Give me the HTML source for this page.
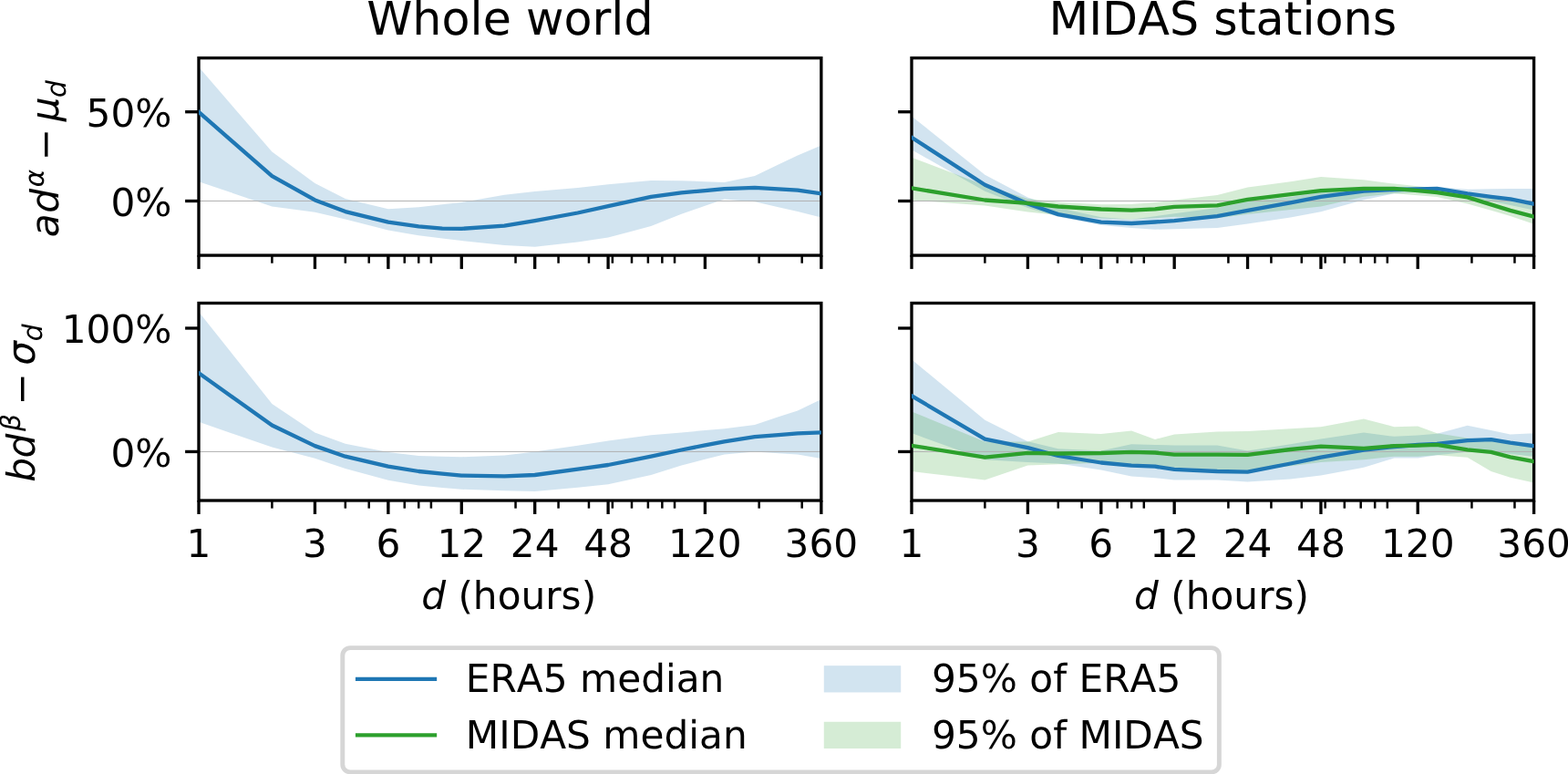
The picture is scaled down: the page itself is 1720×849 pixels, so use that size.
<!DOCTYPE html>
<html lang="en"><head><meta charset="utf-8"><title>Whole world / MIDAS stations</title>
<style>
html,body{margin:0;padding:0;background:#fff;}
body{width:1720px;height:849px;overflow:hidden;}
svg{display:block;}
</style></head><body>
<svg width="1720" height="849" viewBox="0 0 1720 849" font-family="'DejaVu Sans', 'Liberation Sans', sans-serif" font-size="41.667px" fill="#000" style="font-kerning:none;font-variant-ligatures:none;text-rendering:geometricPrecision">
<rect width="1720" height="849" fill="#fff"/>
<defs>
<clipPath id="ctl"><rect x="218.0" y="63.6" width="682.85" height="216.50000000000003"/></clipPath>
<clipPath id="ctr"><rect x="1000.0" y="63.6" width="682.5999999999999" height="216.50000000000003"/></clipPath>
<clipPath id="cbl"><rect x="218.0" y="332.5" width="682.85" height="216.5"/></clipPath>
<clipPath id="cbr"><rect x="1000.0" y="332.5" width="682.5999999999999" height="216.5"/></clipPath>
</defs>
<g clip-path="url(#ctl)">
<path d="M218.00,73.60 L298.41,166.50 L345.45,201.00 L378.82,218.00 L425.86,229.30 L459.24,227.20 L485.12,224.34 L506.28,222.00 L553.31,213.80 L586.69,210.00 L633.73,206.00 L667.10,202.20 L714.14,198.00 L747.51,198.20 L773.40,199.25 L794.55,200.10 L827.92,193.00 L853.81,180.56 L874.96,170.40 L900.85,159.50 L900.85,238.50 L874.96,231.90 L853.81,227.13 L827.92,221.30 L794.55,218.40 L773.40,225.73 L747.51,234.70 L714.14,248.10 L667.10,260.60 L633.73,265.40 L586.69,270.70 L553.31,268.90 L506.28,264.00 L485.12,261.44 L459.24,258.30 L425.86,252.60 L378.82,240.60 L345.45,232.80 L298.41,226.40 L218.00,199.30Z" fill="#1f77b4" fill-opacity="0.2"/>
<line x1="218.0" x2="900.85" y1="220.45" y2="220.45" stroke="#b0b0b0" stroke-width="1.0"/>
</g>
<line x1="298.41" x2="298.41" y1="280.1" y2="288.73" stroke="#000" stroke-width="2.500"/>
<line x1="345.45" x2="345.45" y1="280.1" y2="288.73" stroke="#000" stroke-width="2.500"/>
<line x1="378.82" x2="378.82" y1="280.1" y2="288.73" stroke="#000" stroke-width="2.500"/>
<line x1="404.71" x2="404.71" y1="280.1" y2="288.73" stroke="#000" stroke-width="2.500"/>
<line x1="425.86" x2="425.86" y1="280.1" y2="288.73" stroke="#000" stroke-width="2.500"/>
<line x1="443.75" x2="443.75" y1="280.1" y2="288.73" stroke="#000" stroke-width="2.500"/>
<line x1="459.24" x2="459.24" y1="280.1" y2="288.73" stroke="#000" stroke-width="2.500"/>
<line x1="472.90" x2="472.90" y1="280.1" y2="288.73" stroke="#000" stroke-width="2.500"/>
<line x1="565.54" x2="565.54" y1="280.1" y2="288.73" stroke="#000" stroke-width="2.500"/>
<line x1="612.57" x2="612.57" y1="280.1" y2="288.73" stroke="#000" stroke-width="2.500"/>
<line x1="645.95" x2="645.95" y1="280.1" y2="288.73" stroke="#000" stroke-width="2.500"/>
<line x1="671.84" x2="671.84" y1="280.1" y2="288.73" stroke="#000" stroke-width="2.500"/>
<line x1="692.99" x2="692.99" y1="280.1" y2="288.73" stroke="#000" stroke-width="2.500"/>
<line x1="710.87" x2="710.87" y1="280.1" y2="288.73" stroke="#000" stroke-width="2.500"/>
<line x1="726.36" x2="726.36" y1="280.1" y2="288.73" stroke="#000" stroke-width="2.500"/>
<line x1="740.03" x2="740.03" y1="280.1" y2="288.73" stroke="#000" stroke-width="2.500"/>
<line x1="832.66" x2="832.66" y1="280.1" y2="288.73" stroke="#000" stroke-width="2.500"/>
<line x1="879.70" x2="879.70" y1="280.1" y2="288.73" stroke="#000" stroke-width="2.500"/>
<line x1="218.00" x2="218.00" y1="280.1" y2="295.08" stroke="#000" stroke-width="3.333"/>
<line x1="345.45" x2="345.45" y1="280.1" y2="295.08" stroke="#000" stroke-width="3.333"/>
<line x1="425.86" x2="425.86" y1="280.1" y2="295.08" stroke="#000" stroke-width="3.333"/>
<line x1="506.28" x2="506.28" y1="280.1" y2="295.08" stroke="#000" stroke-width="3.333"/>
<line x1="586.69" x2="586.69" y1="280.1" y2="295.08" stroke="#000" stroke-width="3.333"/>
<line x1="667.10" x2="667.10" y1="280.1" y2="295.08" stroke="#000" stroke-width="3.333"/>
<line x1="773.40" x2="773.40" y1="280.1" y2="295.08" stroke="#000" stroke-width="3.333"/>
<line x1="900.85" x2="900.85" y1="280.1" y2="295.08" stroke="#000" stroke-width="3.333"/>
<line x1="203.12" x2="218.0" y1="122.7" y2="122.7" stroke="#000" stroke-width="3.333"/>
<text transform="translate(188.43 138.75) scale(1.014 1.02)" font-size="41.667px" text-anchor="end">50%</text>
<line x1="203.12" x2="218.0" y1="220.5" y2="220.5" stroke="#000" stroke-width="3.333"/>
<text transform="translate(188.43 236.55) scale(1.014 1.02)" font-size="41.667px" text-anchor="end">0%</text>
<rect x="218.0" y="63.6" width="682.85" height="216.50" fill="none" stroke="#000" stroke-width="3.333" stroke-linejoin="miter"/>
<g clip-path="url(#ctl)">
<path d="M218.00,122.90 L298.41,193.20 L345.45,219.40 L378.82,232.10 L425.86,243.70 L459.24,248.40 L485.12,250.60 L506.28,250.85 L553.31,247.60 L586.69,242.10 L633.73,233.50 L667.10,226.10 L714.14,215.90 L747.51,211.40 L773.40,209.03 L794.55,207.10 L827.92,205.90 L853.81,207.39 L874.96,208.60 L900.85,212.40" fill="none" stroke="#1f77b4" stroke-width="4.300" stroke-linejoin="round" stroke-linecap="square"/>
</g>
<g clip-path="url(#ctr)">
<path d="M1000.00,127.40 L1080.38,191.70 L1127.40,216.50 L1160.77,228.00 L1207.79,238.30 L1241.15,240.70 L1267.03,237.18 L1288.17,234.30 L1335.19,228.00 L1368.55,220.90 L1415.57,215.90 L1448.94,211.00 L1495.96,205.80 L1529.32,205.50 L1555.20,205.28 L1576.34,205.10 L1609.70,207.70 L1635.58,207.31 L1656.72,207.00 L1682.60,207.00 L1682.60,230.60 L1656.72,224.90 L1635.58,220.76 L1609.70,215.70 L1576.34,209.40 L1555.20,210.66 L1529.32,212.20 L1495.96,219.30 L1448.94,232.20 L1415.57,238.60 L1368.55,245.60 L1335.19,249.90 L1288.17,251.30 L1267.03,251.70 L1241.15,250.00 L1207.79,247.10 L1160.77,237.70 L1127.40,228.00 L1080.38,209.80 L1000.00,164.30Z" fill="#1f77b4" fill-opacity="0.2"/>
<path d="M1000.00,172.70 L1080.38,203.30 L1127.40,217.90 L1160.77,221.80 L1207.79,224.20 L1241.15,223.90 L1267.03,222.00 L1288.17,219.50 L1335.19,214.10 L1368.55,205.60 L1415.57,199.30 L1448.94,194.00 L1495.96,197.30 L1529.32,201.60 L1555.20,204.30 L1576.34,206.50 L1609.70,212.90 L1635.58,217.19 L1656.72,220.70 L1682.60,225.60 L1682.60,245.80 L1656.72,236.90 L1635.58,230.87 L1609.70,223.50 L1576.34,216.10 L1555.20,214.35 L1529.32,212.20 L1495.96,215.70 L1448.94,226.50 L1415.57,230.10 L1368.55,235.00 L1335.19,239.30 L1288.17,237.80 L1267.03,239.30 L1241.15,240.70 L1207.79,239.50 L1160.77,236.00 L1127.40,232.40 L1080.38,225.60 L1000.00,219.50Z" fill="#2ca02c" fill-opacity="0.2"/>
<line x1="1000.0" x2="1682.6" y1="220.45" y2="220.45" stroke="#b0b0b0" stroke-width="1.0"/>
</g>
<line x1="1080.38" x2="1080.38" y1="280.1" y2="288.73" stroke="#000" stroke-width="2.500"/>
<line x1="1127.40" x2="1127.40" y1="280.1" y2="288.73" stroke="#000" stroke-width="2.500"/>
<line x1="1160.77" x2="1160.77" y1="280.1" y2="288.73" stroke="#000" stroke-width="2.500"/>
<line x1="1186.64" x2="1186.64" y1="280.1" y2="288.73" stroke="#000" stroke-width="2.500"/>
<line x1="1207.79" x2="1207.79" y1="280.1" y2="288.73" stroke="#000" stroke-width="2.500"/>
<line x1="1225.66" x2="1225.66" y1="280.1" y2="288.73" stroke="#000" stroke-width="2.500"/>
<line x1="1241.15" x2="1241.15" y1="280.1" y2="288.73" stroke="#000" stroke-width="2.500"/>
<line x1="1254.81" x2="1254.81" y1="280.1" y2="288.73" stroke="#000" stroke-width="2.500"/>
<line x1="1347.41" x2="1347.41" y1="280.1" y2="288.73" stroke="#000" stroke-width="2.500"/>
<line x1="1394.43" x2="1394.43" y1="280.1" y2="288.73" stroke="#000" stroke-width="2.500"/>
<line x1="1427.79" x2="1427.79" y1="280.1" y2="288.73" stroke="#000" stroke-width="2.500"/>
<line x1="1453.67" x2="1453.67" y1="280.1" y2="288.73" stroke="#000" stroke-width="2.500"/>
<line x1="1474.81" x2="1474.81" y1="280.1" y2="288.73" stroke="#000" stroke-width="2.500"/>
<line x1="1492.69" x2="1492.69" y1="280.1" y2="288.73" stroke="#000" stroke-width="2.500"/>
<line x1="1508.18" x2="1508.18" y1="280.1" y2="288.73" stroke="#000" stroke-width="2.500"/>
<line x1="1521.83" x2="1521.83" y1="280.1" y2="288.73" stroke="#000" stroke-width="2.500"/>
<line x1="1614.44" x2="1614.44" y1="280.1" y2="288.73" stroke="#000" stroke-width="2.500"/>
<line x1="1661.46" x2="1661.46" y1="280.1" y2="288.73" stroke="#000" stroke-width="2.500"/>
<line x1="1000.00" x2="1000.00" y1="280.1" y2="295.08" stroke="#000" stroke-width="3.333"/>
<line x1="1127.40" x2="1127.40" y1="280.1" y2="295.08" stroke="#000" stroke-width="3.333"/>
<line x1="1207.79" x2="1207.79" y1="280.1" y2="295.08" stroke="#000" stroke-width="3.333"/>
<line x1="1288.17" x2="1288.17" y1="280.1" y2="295.08" stroke="#000" stroke-width="3.333"/>
<line x1="1368.55" x2="1368.55" y1="280.1" y2="295.08" stroke="#000" stroke-width="3.333"/>
<line x1="1448.94" x2="1448.94" y1="280.1" y2="295.08" stroke="#000" stroke-width="3.333"/>
<line x1="1555.20" x2="1555.20" y1="280.1" y2="295.08" stroke="#000" stroke-width="3.333"/>
<line x1="1682.60" x2="1682.60" y1="280.1" y2="295.08" stroke="#000" stroke-width="3.333"/>
<line x1="985.12" x2="1000.0" y1="122.7" y2="122.7" stroke="#000" stroke-width="3.333"/>
<line x1="985.12" x2="1000.0" y1="220.5" y2="220.5" stroke="#000" stroke-width="3.333"/>
<rect x="1000.0" y="63.6" width="682.60" height="216.50" fill="none" stroke="#000" stroke-width="3.333" stroke-linejoin="miter"/>
<g clip-path="url(#ctr)">
<path d="M1000.00,150.70 L1080.38,202.80 L1127.40,223.50 L1160.77,235.10 L1207.79,243.60 L1241.15,245.00 L1267.03,243.50 L1288.17,242.10 L1335.19,237.10 L1368.55,230.80 L1415.57,222.30 L1448.94,215.90 L1495.96,209.60 L1529.32,208.00 L1555.20,207.34 L1576.34,206.80 L1609.70,212.30 L1635.58,215.80 L1656.72,218.40 L1682.60,223.70" fill="none" stroke="#1f77b4" stroke-width="4.300" stroke-linejoin="round" stroke-linecap="square"/>
<path d="M1000.00,206.40 L1080.38,219.50 L1127.40,222.80 L1160.77,226.50 L1207.79,229.50 L1241.15,230.70 L1267.03,229.40 L1288.17,226.80 L1335.19,225.40 L1368.55,218.80 L1415.57,213.10 L1448.94,209.20 L1495.96,206.80 L1529.32,206.80 L1555.20,209.17 L1576.34,211.10 L1609.70,216.40 L1635.58,224.38 L1656.72,230.90 L1682.60,237.60" fill="none" stroke="#2ca02c" stroke-width="4.300" stroke-linejoin="round" stroke-linecap="square"/>
</g>
<g clip-path="url(#cbl)">
<path d="M218.00,342.00 L298.41,443.00 L345.45,474.50 L378.82,486.80 L425.86,496.00 L459.24,500.10 L485.12,500.71 L506.28,501.20 L553.31,499.40 L586.69,495.40 L633.73,488.80 L667.10,483.40 L714.14,477.20 L747.51,474.40 L773.40,472.09 L794.55,470.20 L827.92,465.90 L853.81,457.37 L874.96,450.40 L900.85,438.10 L900.85,503.10 L874.96,498.40 L853.81,497.14 L827.92,495.60 L794.55,498.40 L773.40,503.84 L747.51,510.50 L714.14,521.10 L667.10,531.20 L633.73,534.70 L586.69,538.90 L553.31,538.20 L506.28,536.80 L485.12,534.91 L459.24,532.60 L425.86,526.80 L378.82,514.10 L345.45,502.80 L298.41,490.50 L218.00,462.80Z" fill="#1f77b4" fill-opacity="0.2"/>
<line x1="218.0" x2="900.85" y1="495.4" y2="495.4" stroke="#b0b0b0" stroke-width="1.0"/>
</g>
<line x1="298.41" x2="298.41" y1="549.0" y2="557.63" stroke="#000" stroke-width="2.500"/>
<line x1="345.45" x2="345.45" y1="549.0" y2="557.63" stroke="#000" stroke-width="2.500"/>
<line x1="378.82" x2="378.82" y1="549.0" y2="557.63" stroke="#000" stroke-width="2.500"/>
<line x1="404.71" x2="404.71" y1="549.0" y2="557.63" stroke="#000" stroke-width="2.500"/>
<line x1="425.86" x2="425.86" y1="549.0" y2="557.63" stroke="#000" stroke-width="2.500"/>
<line x1="443.75" x2="443.75" y1="549.0" y2="557.63" stroke="#000" stroke-width="2.500"/>
<line x1="459.24" x2="459.24" y1="549.0" y2="557.63" stroke="#000" stroke-width="2.500"/>
<line x1="472.90" x2="472.90" y1="549.0" y2="557.63" stroke="#000" stroke-width="2.500"/>
<line x1="565.54" x2="565.54" y1="549.0" y2="557.63" stroke="#000" stroke-width="2.500"/>
<line x1="612.57" x2="612.57" y1="549.0" y2="557.63" stroke="#000" stroke-width="2.500"/>
<line x1="645.95" x2="645.95" y1="549.0" y2="557.63" stroke="#000" stroke-width="2.500"/>
<line x1="671.84" x2="671.84" y1="549.0" y2="557.63" stroke="#000" stroke-width="2.500"/>
<line x1="692.99" x2="692.99" y1="549.0" y2="557.63" stroke="#000" stroke-width="2.500"/>
<line x1="710.87" x2="710.87" y1="549.0" y2="557.63" stroke="#000" stroke-width="2.500"/>
<line x1="726.36" x2="726.36" y1="549.0" y2="557.63" stroke="#000" stroke-width="2.500"/>
<line x1="740.03" x2="740.03" y1="549.0" y2="557.63" stroke="#000" stroke-width="2.500"/>
<line x1="832.66" x2="832.66" y1="549.0" y2="557.63" stroke="#000" stroke-width="2.500"/>
<line x1="879.70" x2="879.70" y1="549.0" y2="557.63" stroke="#000" stroke-width="2.500"/>
<line x1="218.00" x2="218.00" y1="549.0" y2="563.98" stroke="#000" stroke-width="3.333"/>
<text transform="translate(218.00 610.90) scale(1.014 1.02)" font-size="41.667px" text-anchor="middle">1</text>
<line x1="345.45" x2="345.45" y1="549.0" y2="563.98" stroke="#000" stroke-width="3.333"/>
<text transform="translate(345.45 610.90) scale(1.014 1.02)" font-size="41.667px" text-anchor="middle">3</text>
<line x1="425.86" x2="425.86" y1="549.0" y2="563.98" stroke="#000" stroke-width="3.333"/>
<text transform="translate(425.86 610.90) scale(1.014 1.02)" font-size="41.667px" text-anchor="middle">6</text>
<line x1="506.28" x2="506.28" y1="549.0" y2="563.98" stroke="#000" stroke-width="3.333"/>
<text transform="translate(506.28 610.90) scale(1.014 1.02)" font-size="41.667px" text-anchor="middle">12</text>
<line x1="586.69" x2="586.69" y1="549.0" y2="563.98" stroke="#000" stroke-width="3.333"/>
<text transform="translate(586.69 610.90) scale(1.014 1.02)" font-size="41.667px" text-anchor="middle">24</text>
<line x1="667.10" x2="667.10" y1="549.0" y2="563.98" stroke="#000" stroke-width="3.333"/>
<text transform="translate(667.10 610.90) scale(1.014 1.02)" font-size="41.667px" text-anchor="middle">48</text>
<line x1="773.40" x2="773.40" y1="549.0" y2="563.98" stroke="#000" stroke-width="3.333"/>
<text transform="translate(773.40 610.90) scale(1.014 1.02)" font-size="41.667px" text-anchor="middle">120</text>
<line x1="900.85" x2="900.85" y1="549.0" y2="563.98" stroke="#000" stroke-width="3.333"/>
<text transform="translate(900.85 610.90) scale(1.014 1.02)" font-size="41.667px" text-anchor="middle">360</text>
<line x1="203.12" x2="218.0" y1="360.0" y2="360.0" stroke="#000" stroke-width="3.333"/>
<text transform="translate(188.43 376.05) scale(1.014 1.02)" font-size="41.667px" text-anchor="end">100%</text>
<line x1="203.12" x2="218.0" y1="495.45" y2="495.45" stroke="#000" stroke-width="3.333"/>
<text transform="translate(188.43 511.50) scale(1.014 1.02)" font-size="41.667px" text-anchor="end">0%</text>
<rect x="218.0" y="332.5" width="682.85" height="216.50" fill="none" stroke="#000" stroke-width="3.333" stroke-linejoin="miter"/>
<g clip-path="url(#cbl)">
<path d="M218.00,409.20 L298.41,466.50 L345.45,489.10 L378.82,500.70 L425.86,511.70 L459.24,517.00 L485.12,519.53 L506.28,521.60 L553.31,522.30 L586.69,521.00 L633.73,514.60 L667.10,510.00 L714.14,500.60 L747.51,493.50 L773.40,488.44 L794.55,484.30 L827.92,479.10 L853.81,477.06 L874.96,475.40 L900.85,474.40" fill="none" stroke="#1f77b4" stroke-width="4.300" stroke-linejoin="round" stroke-linecap="square"/>
</g>
<g clip-path="url(#cbr)">
<path d="M1000.00,394.30 L1080.38,460.80 L1127.40,484.20 L1160.77,492.30 L1207.79,494.40 L1241.15,487.30 L1267.03,488.00 L1288.17,488.40 L1335.19,488.40 L1368.55,494.40 L1415.57,487.30 L1448.94,481.40 L1495.96,474.60 L1529.32,478.80 L1555.20,477.40 L1576.34,475.70 L1609.70,466.80 L1635.58,472.00 L1656.72,476.40 L1682.60,475.30 L1682.60,500.70 L1656.72,497.90 L1635.58,495.80 L1609.70,495.80 L1576.34,499.30 L1555.20,502.60 L1529.32,502.60 L1495.96,512.70 L1448.94,521.50 L1415.57,525.50 L1368.55,528.60 L1335.19,526.60 L1288.17,526.60 L1267.03,524.30 L1241.15,522.60 L1207.79,515.60 L1160.77,508.50 L1127.40,507.10 L1080.38,504.30 L1000.00,475.10Z" fill="#1f77b4" fill-opacity="0.2"/>
<path d="M1000.00,451.40 L1080.38,484.55 L1127.40,484.40 L1160.77,474.10 L1207.79,476.00 L1241.15,472.50 L1267.03,481.90 L1288.17,476.40 L1335.19,473.40 L1368.55,472.90 L1415.57,470.30 L1448.94,468.20 L1495.96,459.50 L1529.32,468.20 L1555.20,467.50 L1576.34,475.30 L1609.70,480.40 L1635.58,483.00 L1656.72,486.60 L1682.60,490.00 L1682.60,529.40 L1656.72,523.80 L1635.58,517.00 L1609.70,501.70 L1576.34,499.30 L1555.20,500.70 L1529.32,500.70 L1495.96,504.30 L1448.94,507.10 L1415.57,511.30 L1368.55,515.80 L1335.19,514.90 L1288.17,512.70 L1267.03,510.60 L1241.15,509.20 L1207.79,507.80 L1160.77,509.20 L1127.40,510.60 L1080.38,526.60 L1000.00,517.00Z" fill="#2ca02c" fill-opacity="0.2"/>
<line x1="1000.0" x2="1682.6" y1="495.4" y2="495.4" stroke="#b0b0b0" stroke-width="1.0"/>
</g>
<line x1="1080.38" x2="1080.38" y1="549.0" y2="557.63" stroke="#000" stroke-width="2.500"/>
<line x1="1127.40" x2="1127.40" y1="549.0" y2="557.63" stroke="#000" stroke-width="2.500"/>
<line x1="1160.77" x2="1160.77" y1="549.0" y2="557.63" stroke="#000" stroke-width="2.500"/>
<line x1="1186.64" x2="1186.64" y1="549.0" y2="557.63" stroke="#000" stroke-width="2.500"/>
<line x1="1207.79" x2="1207.79" y1="549.0" y2="557.63" stroke="#000" stroke-width="2.500"/>
<line x1="1225.66" x2="1225.66" y1="549.0" y2="557.63" stroke="#000" stroke-width="2.500"/>
<line x1="1241.15" x2="1241.15" y1="549.0" y2="557.63" stroke="#000" stroke-width="2.500"/>
<line x1="1254.81" x2="1254.81" y1="549.0" y2="557.63" stroke="#000" stroke-width="2.500"/>
<line x1="1347.41" x2="1347.41" y1="549.0" y2="557.63" stroke="#000" stroke-width="2.500"/>
<line x1="1394.43" x2="1394.43" y1="549.0" y2="557.63" stroke="#000" stroke-width="2.500"/>
<line x1="1427.79" x2="1427.79" y1="549.0" y2="557.63" stroke="#000" stroke-width="2.500"/>
<line x1="1453.67" x2="1453.67" y1="549.0" y2="557.63" stroke="#000" stroke-width="2.500"/>
<line x1="1474.81" x2="1474.81" y1="549.0" y2="557.63" stroke="#000" stroke-width="2.500"/>
<line x1="1492.69" x2="1492.69" y1="549.0" y2="557.63" stroke="#000" stroke-width="2.500"/>
<line x1="1508.18" x2="1508.18" y1="549.0" y2="557.63" stroke="#000" stroke-width="2.500"/>
<line x1="1521.83" x2="1521.83" y1="549.0" y2="557.63" stroke="#000" stroke-width="2.500"/>
<line x1="1614.44" x2="1614.44" y1="549.0" y2="557.63" stroke="#000" stroke-width="2.500"/>
<line x1="1661.46" x2="1661.46" y1="549.0" y2="557.63" stroke="#000" stroke-width="2.500"/>
<line x1="1000.00" x2="1000.00" y1="549.0" y2="563.98" stroke="#000" stroke-width="3.333"/>
<text transform="translate(1000.00 610.90) scale(1.014 1.02)" font-size="41.667px" text-anchor="middle">1</text>
<line x1="1127.40" x2="1127.40" y1="549.0" y2="563.98" stroke="#000" stroke-width="3.333"/>
<text transform="translate(1127.40 610.90) scale(1.014 1.02)" font-size="41.667px" text-anchor="middle">3</text>
<line x1="1207.79" x2="1207.79" y1="549.0" y2="563.98" stroke="#000" stroke-width="3.333"/>
<text transform="translate(1207.79 610.90) scale(1.014 1.02)" font-size="41.667px" text-anchor="middle">6</text>
<line x1="1288.17" x2="1288.17" y1="549.0" y2="563.98" stroke="#000" stroke-width="3.333"/>
<text transform="translate(1288.17 610.90) scale(1.014 1.02)" font-size="41.667px" text-anchor="middle">12</text>
<line x1="1368.55" x2="1368.55" y1="549.0" y2="563.98" stroke="#000" stroke-width="3.333"/>
<text transform="translate(1368.55 610.90) scale(1.014 1.02)" font-size="41.667px" text-anchor="middle">24</text>
<line x1="1448.94" x2="1448.94" y1="549.0" y2="563.98" stroke="#000" stroke-width="3.333"/>
<text transform="translate(1448.94 610.90) scale(1.014 1.02)" font-size="41.667px" text-anchor="middle">48</text>
<line x1="1555.20" x2="1555.20" y1="549.0" y2="563.98" stroke="#000" stroke-width="3.333"/>
<text transform="translate(1555.20 610.90) scale(1.014 1.02)" font-size="41.667px" text-anchor="middle">120</text>
<line x1="1682.60" x2="1682.60" y1="549.0" y2="563.98" stroke="#000" stroke-width="3.333"/>
<text transform="translate(1682.60 610.90) scale(1.014 1.02)" font-size="41.667px" text-anchor="middle">360</text>
<line x1="985.12" x2="1000.0" y1="360.0" y2="360.0" stroke="#000" stroke-width="3.333"/>
<line x1="985.12" x2="1000.0" y1="495.45" y2="495.45" stroke="#000" stroke-width="3.333"/>
<rect x="1000.0" y="332.5" width="682.60" height="216.50" fill="none" stroke="#000" stroke-width="3.333" stroke-linejoin="miter"/>
<g clip-path="url(#cbr)">
<path d="M1000.00,434.20 L1080.38,481.70 L1127.40,491.20 L1160.77,500.00 L1207.79,507.50 L1241.15,510.60 L1267.03,511.70 L1288.17,514.90 L1335.19,517.00 L1368.55,517.70 L1415.57,508.50 L1448.94,501.60 L1495.96,493.70 L1529.32,490.10 L1555.20,488.00 L1576.34,486.80 L1609.70,483.10 L1635.58,482.10 L1656.72,485.70 L1682.60,489.20" fill="none" stroke="#1f77b4" stroke-width="4.300" stroke-linejoin="round" stroke-linecap="square"/>
<path d="M1000.00,488.75 L1080.38,501.70 L1127.40,496.80 L1160.77,497.50 L1207.79,497.00 L1241.15,495.80 L1267.03,496.50 L1288.17,498.60 L1335.19,498.60 L1368.55,498.90 L1415.57,493.00 L1448.94,489.60 L1495.96,491.80 L1529.32,489.10 L1555.20,488.70 L1576.34,487.80 L1609.70,493.30 L1635.58,495.90 L1656.72,501.40 L1682.60,506.20" fill="none" stroke="#2ca02c" stroke-width="4.300" stroke-linejoin="round" stroke-linecap="square"/>
</g>
<text transform="translate(559.42 38.30) scale(1.0145 1.015)" font-size="50.000px" text-anchor="middle">Whole world</text>
<text transform="translate(1341.30 38.30) scale(1.0145 1.015)" font-size="50.000px" text-anchor="middle">MIDAS stations</text>
<text transform="translate(558.12 668.40) scale(1.014 1.015)" font-size="41.667px" text-anchor="middle"><tspan font-style="italic">d</tspan> (hours)</text>
<text transform="translate(1340.00 668.40) scale(1.014 1.015)" font-size="41.667px" text-anchor="middle"><tspan font-style="italic">d</tspan> (hours)</text>
<text transform="translate(64.4 259.5) rotate(-90) scale(1.014 1.015)" font-style="italic"><tspan x="-0.7" y="0" font-size="41.667px">a</tspan><tspan x="25.5" y="0" font-size="41.667px">d</tspan><tspan x="53.5" y="-16" font-size="29.167px">α</tspan><tspan x="82" y="0" font-size="41.667px" font-style="normal">−</tspan><tspan x="124.5" y="0" font-size="41.667px">μ</tspan><tspan x="150.5" y="7" font-size="29.167px">d</tspan></text>
<text transform="translate(38.4 528.4) rotate(-90) scale(1.014 1.015)" font-style="italic"><tspan x="-0.4" y="0" font-size="41.667px">b</tspan><tspan x="25.5" y="0" font-size="41.667px">d</tspan><tspan x="54.7" y="-16" font-size="29.167px">β</tspan><tspan x="82.7" y="0" font-size="41.667px" font-style="normal">−</tspan><tspan x="126" y="0" font-size="41.667px">σ</tspan><tspan x="152" y="7" font-size="29.167px">d</tspan></text>
<rect x="375.8" y="710.6" width="961.60" height="136.30" rx="8.33" ry="8.33" fill="#fff" fill-opacity="0.8" stroke="#cccccc" stroke-opacity="0.8" stroke-width="4.900"/>
<line x1="392.0" x2="477.1" y1="744.8" y2="744.8" stroke="#1f77b4" stroke-width="4.167" stroke-linecap="square"/>
<text transform="translate(510.80 759.40) scale(1.014 1.02)" font-size="41.667px">ERA5 median</text>
<line x1="392.0" x2="477.1" y1="806.4" y2="806.4" stroke="#2ca02c" stroke-width="4.167" stroke-linecap="square"/>
<text transform="translate(510.80 821.00) scale(1.014 1.02)" font-size="41.667px">MIDAS median</text>
<rect x="903.8" y="730.15" width="84.40" height="29.3" fill="#1f77b4" fill-opacity="0.2"/>
<text transform="translate(1022.00 759.40) scale(1.014 1.02)" font-size="41.667px">95% of ERA5</text>
<rect x="903.8" y="791.75" width="84.40" height="29.3" fill="#2ca02c" fill-opacity="0.2"/>
<text transform="translate(1022.00 821.00) scale(1.014 1.02)" font-size="41.667px">95% of MIDAS</text>
</svg>
</body></html>
